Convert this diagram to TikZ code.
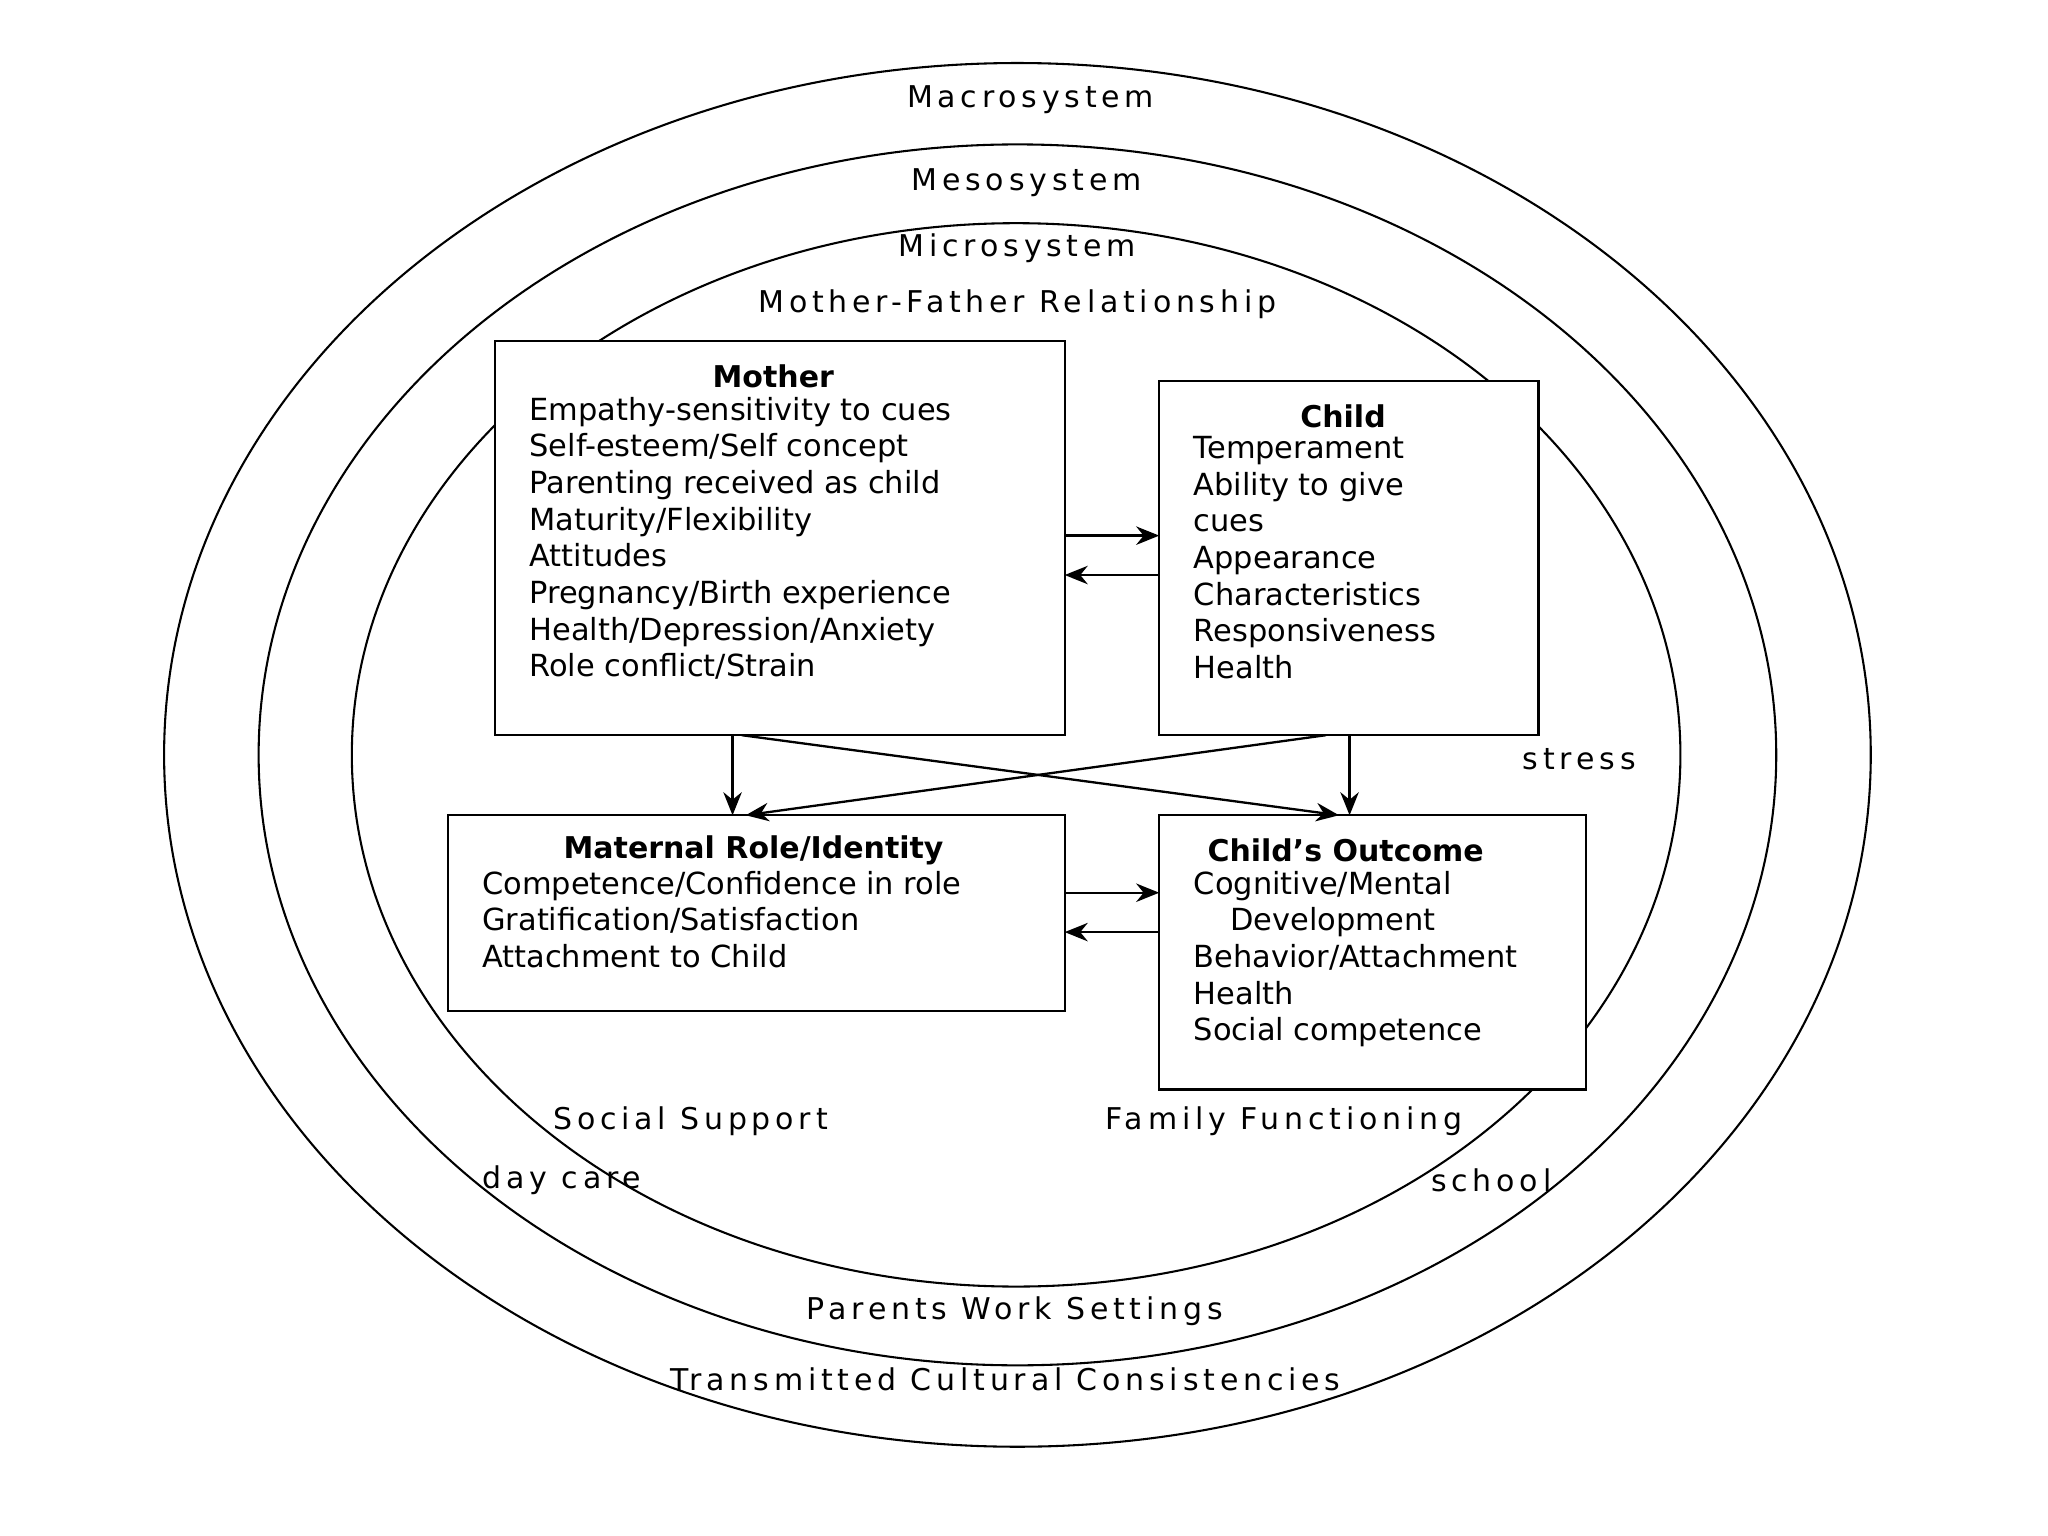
\documentclass[tikz,border=0pt]{standalone}
\usepackage{fontspec}
\setmainfont{DejaVu Sans}
\newfontfamily\spaced[LetterSpace=16]{DejaVu Sans}
\usetikzlibrary{arrows.meta}
\begin{document}
\begin{tikzpicture}[x=0.02cm,y=-0.02cm,
  ring/.style={draw,line width=0.9pt},
  boxx/.style={draw,line width=1pt},
  body/.style={anchor=north west,inner sep=0pt,align=left,font=\fontsize{13.2}{15.9}\selectfont},
  ttl/.style={inner sep=0pt,font=\fontsize{13}{15}\selectfont\bfseries},
  lab/.style={inner sep=0pt,font=\fontsize{13}{14}\selectfont\spaced},
  arr/.style={-{Stealth[length=10pt,width=8pt]},line width=1pt}]
\useasboundingbox (0,0) rectangle (1560,1170);
\draw[ring] (775,575) ellipse [x radius=650, y radius=-527];
\draw[ring] (775,575) ellipse [x radius=578, y radius=-465];
\draw[ring] (774,575) ellipse [x radius=506, y radius=-405];
% boxes
\draw[boxx,fill=white] (377,260) rectangle (811,560);
\draw[boxx,fill=white] (883,290) rectangle (1172,560);
\draw[boxx,fill=white] (341,621) rectangle (811,770);
\draw[boxx,fill=white] (883,621) rectangle (1208,830);
\coordinate (m1) at (811,408); \coordinate (c1) at (883,408);
\coordinate (m2) at (811,438); \coordinate (c2) at (883,438);
\coordinate (r1) at (811,680); \coordinate (o1) at (883,680);
\coordinate (r2) at (811,710); \coordinate (o2) at (883,710);
\coordinate (mb) at (558,560); \coordinate (rt) at (558,621);
\coordinate (mb2) at (565,560); \coordinate (ot2) at (1020,621);
\coordinate (cb2) at (1010,560); \coordinate (rt2) at (568,621);
\coordinate (cb) at (1028,560); \coordinate (ot) at (1028,621);
\draw[arr] (m1) -- (c1);
\draw[arr] (c2) -- (m2);
\draw[arr] (r1) -- (o1);
\draw[arr] (o2) -- (r2);
\draw[arr] (mb) -- (rt);
\draw[arr] (cb) -- (ot);
\draw[arr] (mb2) -- (ot2);
\draw[arr] (cb2) -- (rt2);
% titles
\node[ttl] (tm) at (589,287) {Mother};
\node[ttl] (tc) at (1023,317) {Child};
\node[ttl] (tr) at (574,648) {Maternal Role/Identity};
\node[ttl] (to) at (1025,648) {Child’s Outcome};
\node[body] (bm) at (403,302) {Empathy-sensitivity to cues\\Self-esteem/Self concept\\Parenting received as child\\Maturity/Flexibility\\Attitudes\\Pregnancy/Birth experience\\Health/Depression/Anxiety\\Role conflict/Strain};
\node[body] (bc) at (909,332) {Temperament\\Ability to give\\cues\\Appearance\\Characteristics\\Responsiveness\\Health};
\node[body] (br) at (367,663) {Competence/Confidence in role\\Gratification/Satisfaction\\Attachment to Child};
\node[body] (bo) at (909,663) {Cognitive/Mental\\\hspace*{1.2em}Development\\Behavior/Attachment\\Health\\Social competence};
% labels
\node[lab] (l1) at (785,76) {Macrosystem};
\node[lab] (l2) at (782,139) {Mesosystem};
\node[lab] (l3) at (775,189) {Microsystem};
\node[lab] (l4) at (775,232) {Mother-Father Relationship};
\node[lab] (l5) at (1203,578) {stress};
\node[lab] (l6) at (526,854) {Social Support};
\node[lab] (l7) at (978,854) {Family Functioning};
\node[lab] (l8) at (428,899) {day care};
\node[lab] (l9) at (1136,899) {school};
\node[lab] (l10) at (773,999) {Parents Work Settings};
\node[lab] (l11) at (766,1051) {Transmitted Cultural Consistencies};
\end{tikzpicture}
\end{document}
